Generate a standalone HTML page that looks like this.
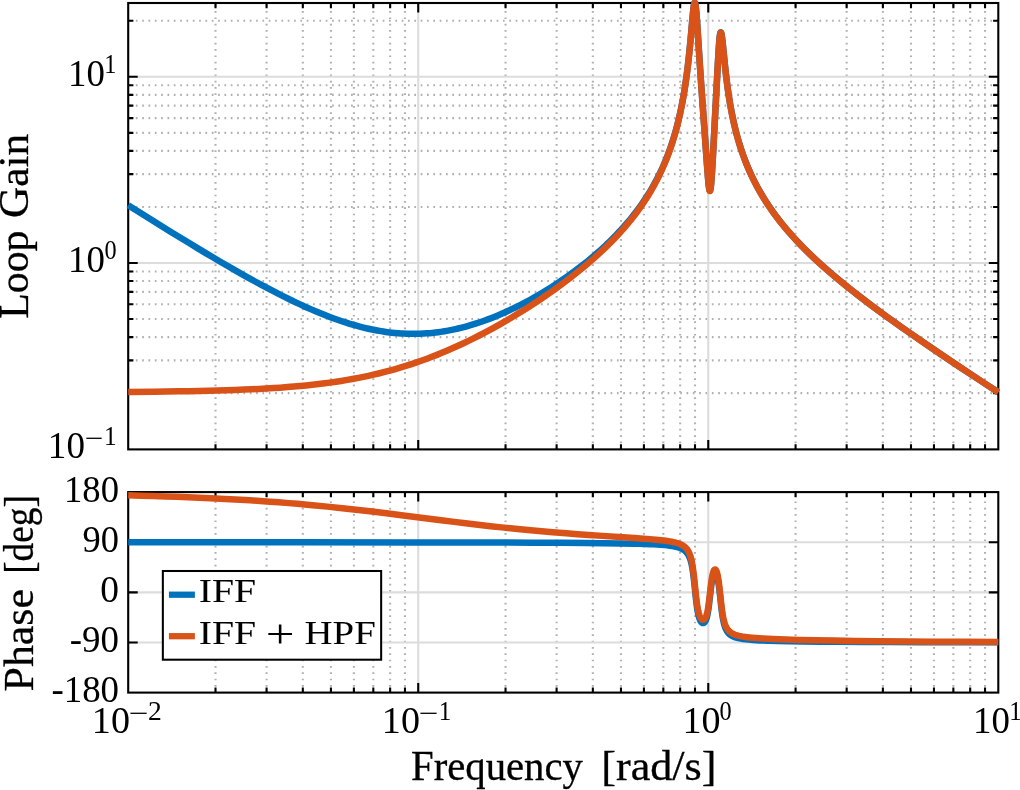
<!DOCTYPE html>
<html><head><meta charset="utf-8"><title>Bode</title>
<style>html,body{margin:0;padding:0;background:#fff;overflow:hidden}svg{display:block}</style></head>
<body>
<svg width="1020" height="790" viewBox="0 0 1020 790">
<rect width="1020" height="790" fill="#fff"/>
<line x1="215.51" y1="449.40" x2="215.51" y2="3.00" stroke="#b0b0b0" stroke-width="2.10" stroke-dasharray="1.7 4.63" stroke-dashoffset="0.15"/>
<line x1="266.58" y1="449.40" x2="266.58" y2="3.00" stroke="#b0b0b0" stroke-width="2.10" stroke-dasharray="1.7 4.63" stroke-dashoffset="0.15"/>
<line x1="302.82" y1="449.40" x2="302.82" y2="3.00" stroke="#b0b0b0" stroke-width="2.10" stroke-dasharray="1.7 4.63" stroke-dashoffset="0.15"/>
<line x1="330.92" y1="449.40" x2="330.92" y2="3.00" stroke="#b0b0b0" stroke-width="2.10" stroke-dasharray="1.7 4.63" stroke-dashoffset="0.15"/>
<line x1="353.89" y1="449.40" x2="353.89" y2="3.00" stroke="#b0b0b0" stroke-width="2.10" stroke-dasharray="1.7 4.63" stroke-dashoffset="0.15"/>
<line x1="373.31" y1="449.40" x2="373.31" y2="3.00" stroke="#b0b0b0" stroke-width="2.10" stroke-dasharray="1.7 4.63" stroke-dashoffset="0.15"/>
<line x1="390.13" y1="449.40" x2="390.13" y2="3.00" stroke="#b0b0b0" stroke-width="2.10" stroke-dasharray="1.7 4.63" stroke-dashoffset="0.15"/>
<line x1="404.96" y1="449.40" x2="404.96" y2="3.00" stroke="#b0b0b0" stroke-width="2.10" stroke-dasharray="1.7 4.63" stroke-dashoffset="0.15"/>
<line x1="505.54" y1="449.40" x2="505.54" y2="3.00" stroke="#b0b0b0" stroke-width="2.10" stroke-dasharray="1.7 4.63" stroke-dashoffset="0.15"/>
<line x1="556.61" y1="449.40" x2="556.61" y2="3.00" stroke="#b0b0b0" stroke-width="2.10" stroke-dasharray="1.7 4.63" stroke-dashoffset="0.15"/>
<line x1="592.85" y1="449.40" x2="592.85" y2="3.00" stroke="#b0b0b0" stroke-width="2.10" stroke-dasharray="1.7 4.63" stroke-dashoffset="0.15"/>
<line x1="620.96" y1="449.40" x2="620.96" y2="3.00" stroke="#b0b0b0" stroke-width="2.10" stroke-dasharray="1.7 4.63" stroke-dashoffset="0.15"/>
<line x1="643.92" y1="449.40" x2="643.92" y2="3.00" stroke="#b0b0b0" stroke-width="2.10" stroke-dasharray="1.7 4.63" stroke-dashoffset="0.15"/>
<line x1="663.34" y1="449.40" x2="663.34" y2="3.00" stroke="#b0b0b0" stroke-width="2.10" stroke-dasharray="1.7 4.63" stroke-dashoffset="0.15"/>
<line x1="680.16" y1="449.40" x2="680.16" y2="3.00" stroke="#b0b0b0" stroke-width="2.10" stroke-dasharray="1.7 4.63" stroke-dashoffset="0.15"/>
<line x1="695.00" y1="449.40" x2="695.00" y2="3.00" stroke="#b0b0b0" stroke-width="2.10" stroke-dasharray="1.7 4.63" stroke-dashoffset="0.15"/>
<line x1="795.58" y1="449.40" x2="795.58" y2="3.00" stroke="#b0b0b0" stroke-width="2.10" stroke-dasharray="1.7 4.63" stroke-dashoffset="0.15"/>
<line x1="846.65" y1="449.40" x2="846.65" y2="3.00" stroke="#b0b0b0" stroke-width="2.10" stroke-dasharray="1.7 4.63" stroke-dashoffset="0.15"/>
<line x1="882.88" y1="449.40" x2="882.88" y2="3.00" stroke="#b0b0b0" stroke-width="2.10" stroke-dasharray="1.7 4.63" stroke-dashoffset="0.15"/>
<line x1="910.99" y1="449.40" x2="910.99" y2="3.00" stroke="#b0b0b0" stroke-width="2.10" stroke-dasharray="1.7 4.63" stroke-dashoffset="0.15"/>
<line x1="933.96" y1="449.40" x2="933.96" y2="3.00" stroke="#b0b0b0" stroke-width="2.10" stroke-dasharray="1.7 4.63" stroke-dashoffset="0.15"/>
<line x1="953.37" y1="449.40" x2="953.37" y2="3.00" stroke="#b0b0b0" stroke-width="2.10" stroke-dasharray="1.7 4.63" stroke-dashoffset="0.15"/>
<line x1="970.19" y1="449.40" x2="970.19" y2="3.00" stroke="#b0b0b0" stroke-width="2.10" stroke-dasharray="1.7 4.63" stroke-dashoffset="0.15"/>
<line x1="985.03" y1="449.40" x2="985.03" y2="3.00" stroke="#b0b0b0" stroke-width="2.10" stroke-dasharray="1.7 4.63" stroke-dashoffset="0.15"/>
<line x1="128.20" y1="393.15" x2="998.30" y2="393.15" stroke="#b0b0b0" stroke-width="2.10" stroke-dasharray="1.7 4.63" stroke-dashoffset="-1.30"/>
<line x1="128.20" y1="360.36" x2="998.30" y2="360.36" stroke="#b0b0b0" stroke-width="2.10" stroke-dasharray="1.7 4.63" stroke-dashoffset="-1.30"/>
<line x1="128.20" y1="337.10" x2="998.30" y2="337.10" stroke="#b0b0b0" stroke-width="2.10" stroke-dasharray="1.7 4.63" stroke-dashoffset="-1.30"/>
<line x1="128.20" y1="319.05" x2="998.30" y2="319.05" stroke="#b0b0b0" stroke-width="2.10" stroke-dasharray="1.7 4.63" stroke-dashoffset="-1.30"/>
<line x1="128.20" y1="304.31" x2="998.30" y2="304.31" stroke="#b0b0b0" stroke-width="2.10" stroke-dasharray="1.7 4.63" stroke-dashoffset="-1.30"/>
<line x1="128.20" y1="291.84" x2="998.30" y2="291.84" stroke="#b0b0b0" stroke-width="2.10" stroke-dasharray="1.7 4.63" stroke-dashoffset="-1.30"/>
<line x1="128.20" y1="281.04" x2="998.30" y2="281.04" stroke="#b0b0b0" stroke-width="2.10" stroke-dasharray="1.7 4.63" stroke-dashoffset="-1.30"/>
<line x1="128.20" y1="271.52" x2="998.30" y2="271.52" stroke="#b0b0b0" stroke-width="2.10" stroke-dasharray="1.7 4.63" stroke-dashoffset="-1.30"/>
<line x1="128.20" y1="206.95" x2="998.30" y2="206.95" stroke="#b0b0b0" stroke-width="2.10" stroke-dasharray="1.7 4.63" stroke-dashoffset="-1.30"/>
<line x1="128.20" y1="174.16" x2="998.30" y2="174.16" stroke="#b0b0b0" stroke-width="2.10" stroke-dasharray="1.7 4.63" stroke-dashoffset="-1.30"/>
<line x1="128.20" y1="150.90" x2="998.30" y2="150.90" stroke="#b0b0b0" stroke-width="2.10" stroke-dasharray="1.7 4.63" stroke-dashoffset="-1.30"/>
<line x1="128.20" y1="132.85" x2="998.30" y2="132.85" stroke="#b0b0b0" stroke-width="2.10" stroke-dasharray="1.7 4.63" stroke-dashoffset="-1.30"/>
<line x1="128.20" y1="118.11" x2="998.30" y2="118.11" stroke="#b0b0b0" stroke-width="2.10" stroke-dasharray="1.7 4.63" stroke-dashoffset="-1.30"/>
<line x1="128.20" y1="105.64" x2="998.30" y2="105.64" stroke="#b0b0b0" stroke-width="2.10" stroke-dasharray="1.7 4.63" stroke-dashoffset="-1.30"/>
<line x1="128.20" y1="94.84" x2="998.30" y2="94.84" stroke="#b0b0b0" stroke-width="2.10" stroke-dasharray="1.7 4.63" stroke-dashoffset="-1.30"/>
<line x1="128.20" y1="85.32" x2="998.30" y2="85.32" stroke="#b0b0b0" stroke-width="2.10" stroke-dasharray="1.7 4.63" stroke-dashoffset="-1.30"/>
<line x1="128.20" y1="20.75" x2="998.30" y2="20.75" stroke="#b0b0b0" stroke-width="2.10" stroke-dasharray="1.7 4.63" stroke-dashoffset="-1.30"/>
<line x1="418.23" y1="449.40" x2="418.23" y2="3.00" stroke="#dcdcdc" stroke-width="2.10"/>
<line x1="708.27" y1="449.40" x2="708.27" y2="3.00" stroke="#dcdcdc" stroke-width="2.10"/>
<line x1="128.20" y1="76.80" x2="998.30" y2="76.80" stroke="#dcdcdc" stroke-width="2.10"/>
<line x1="128.20" y1="263.00" x2="998.30" y2="263.00" stroke="#dcdcdc" stroke-width="2.10"/>
<path d="M215.51,449.40V444.20 M215.51,3.00V8.20 M266.58,449.40V444.20 M266.58,3.00V8.20 M302.82,449.40V444.20 M302.82,3.00V8.20 M330.92,449.40V444.20 M330.92,3.00V8.20 M353.89,449.40V444.20 M353.89,3.00V8.20 M373.31,449.40V444.20 M373.31,3.00V8.20 M390.13,449.40V444.20 M390.13,3.00V8.20 M404.96,449.40V444.20 M404.96,3.00V8.20 M418.23,449.40V439.90 M418.23,3.00V12.50 M505.54,449.40V444.20 M505.54,3.00V8.20 M556.61,449.40V444.20 M556.61,3.00V8.20 M592.85,449.40V444.20 M592.85,3.00V8.20 M620.96,449.40V444.20 M620.96,3.00V8.20 M643.92,449.40V444.20 M643.92,3.00V8.20 M663.34,449.40V444.20 M663.34,3.00V8.20 M680.16,449.40V444.20 M680.16,3.00V8.20 M695.00,449.40V444.20 M695.00,3.00V8.20 M708.27,449.40V439.90 M708.27,3.00V12.50 M795.58,449.40V444.20 M795.58,3.00V8.20 M846.65,449.40V444.20 M846.65,3.00V8.20 M882.88,449.40V444.20 M882.88,3.00V8.20 M910.99,449.40V444.20 M910.99,3.00V8.20 M933.96,449.40V444.20 M933.96,3.00V8.20 M953.37,449.40V444.20 M953.37,3.00V8.20 M970.19,449.40V444.20 M970.19,3.00V8.20 M985.03,449.40V444.20 M985.03,3.00V8.20 M128.20,76.80H137.70 M998.30,76.80H988.80 M128.20,263.00H137.70 M998.30,263.00H988.80 M128.20,393.15H133.40 M998.30,393.15H993.10 M128.20,360.36H133.40 M998.30,360.36H993.10 M128.20,337.10H133.40 M998.30,337.10H993.10 M128.20,319.05H133.40 M998.30,319.05H993.10 M128.20,304.31H133.40 M998.30,304.31H993.10 M128.20,291.84H133.40 M998.30,291.84H993.10 M128.20,281.04H133.40 M998.30,281.04H993.10 M128.20,271.52H133.40 M998.30,271.52H993.10 M128.20,206.95H133.40 M998.30,206.95H993.10 M128.20,174.16H133.40 M998.30,174.16H993.10 M128.20,150.90H133.40 M998.30,150.90H993.10 M128.20,132.85H133.40 M998.30,132.85H993.10 M128.20,118.11H133.40 M998.30,118.11H993.10 M128.20,105.64H133.40 M998.30,105.64H993.10 M128.20,94.84H133.40 M998.30,94.84H993.10 M128.20,85.32H133.40 M998.30,85.32H993.10 M128.20,20.75H133.40 M998.30,20.75H993.10" stroke="#000" stroke-width="2.10" fill="none"/>
<rect x="128.20" y="3.00" width="870.10" height="446.40" fill="none" stroke="#000" stroke-width="2.10"/>
<path d="M128.20,205.29 L150.61,219.32 L170.52,231.66 L180.48,237.77 L189.19,243.08 L197.91,248.36 L205.38,252.84 L212.84,257.28 L220.31,261.68 L227.78,266.04 L235.25,270.34 L242.72,274.58 L248.94,278.07 L255.17,281.50 L261.39,284.88 L267.62,288.21 L273.84,291.47 L280.06,294.66 L285.04,297.16 L291.27,300.22 L296.25,302.60 L301.22,304.92 L306.20,307.18 L311.18,309.38 L316.16,311.51 L321.14,313.56 L326.12,315.54 L331.10,317.44 L336.08,319.25 L341.06,320.98 L344.79,322.21 L349.77,323.78 L354.75,325.24 L359.73,326.60 L363.46,327.55 L368.44,328.72 L372.18,329.52 L377.16,330.50 L380.89,331.15 L383.38,331.55 L385.87,331.91 L389.60,332.41 L392.09,332.69 L394.58,332.95 L398.32,333.28 L400.81,333.46 L403.30,333.60 L407.03,333.76 L409.52,333.83 L412.01,333.86 L415.74,333.85 L419.48,333.76 L423.21,333.60 L426.95,333.36 L429.44,333.16 L431.93,332.93 L435.66,332.52 L438.15,332.21 L440.64,331.86 L444.37,331.28 L446.86,330.86 L449.35,330.40 L453.09,329.65 L455.58,329.11 L458.07,328.54 L461.80,327.63 L466.78,326.31 L470.51,325.24 L475.49,323.71 L479.23,322.49 L484.21,320.75 L489.19,318.91 L491.68,317.94 L495.41,316.45 L497.90,315.42 L501.63,313.82 L504.12,312.72 L507.86,311.03 L512.84,308.68 L515.33,307.47 L519.06,305.60 L521.55,304.33 L525.28,302.37 L527.77,301.04 L531.51,298.98 L535.24,296.88 L537.73,295.44 L541.47,293.25 L543.96,291.75 L547.69,289.46 L550.18,287.90 L555.16,284.70 L558.89,282.24 L561.38,280.56 L566.36,277.12 L570.10,274.47 L572.59,272.67 L577.56,268.96 L582.54,265.13 L587.52,261.17 L592.50,257.05 L594.99,254.94 L597.48,252.78 L599.97,250.58 L602.46,248.33 L604.95,246.04 L607.44,243.69 L609.93,241.29 L612.42,238.84 L616.15,235.05 L619.89,231.11 L623.62,227.00 L627.36,222.72 L629.85,219.76 L631.09,218.25 L633.58,215.14 L634.82,213.54 L637.31,210.27 L638.56,208.59 L641.05,205.13 L642.29,203.35 L644.78,199.68 L647.27,195.85 L649.76,191.84 L652.25,187.63 L654.74,183.20 L655.99,180.89 L657.23,178.52 L658.48,176.07 L659.72,173.55 L660.97,170.95 L662.21,168.25 L663.45,165.47 L664.70,162.58 L665.94,159.59 L667.19,156.47 L668.43,153.22 L669.68,149.83 L670.92,146.28 L672.17,142.55 L673.41,138.63 L674.66,134.50 L675.90,130.12 L677.15,125.47 L678.39,120.51 L679.64,115.19 L680.78,109.93 L681.85,104.69 L682.85,99.40 L683.85,93.72 L684.79,87.97 L685.72,81.75 L686.60,75.47 L687.48,68.67 L688.29,61.82 L689.10,54.40 L689.66,48.92 L690.29,42.49 L690.98,35.03 L692.60,16.80 L693.04,12.26 L693.42,8.79 L693.67,6.79 L693.85,5.49 L694.04,4.39 L694.23,3.51 L694.35,3.06 L694.48,2.73 L694.54,2.70 L694.98,2.70 L695.04,2.77 L695.17,3.14 L695.35,3.93 L695.60,5.42 L695.82,7.07 L696.04,9.12 L696.29,11.78 L696.79,18.01 L697.61,29.78 L699.92,65.51 L701.23,84.77 L702.42,101.50 L706.61,159.43 L707.61,172.85 L708.27,180.68 L708.55,183.59 L708.80,185.84 L709.05,187.74 L709.30,189.21 L709.51,190.08 L709.61,190.36 L709.74,190.59 L709.86,190.67 L709.92,190.67 L709.99,190.62 L710.11,190.42 L710.24,190.08 L710.36,189.59 L710.49,188.96 L710.80,186.78 L711.05,184.46 L711.36,180.92 L711.67,176.78 L712.05,171.19 L712.74,159.69 L713.61,143.80 L717.68,66.64 L718.37,54.62 L718.93,45.95 L719.18,42.60 L719.43,39.65 L719.68,37.14 L719.93,35.12 L720.18,33.62 L720.37,32.84 L720.49,32.50 L720.62,32.28 L720.74,32.20 L720.87,32.24 L720.99,32.40 L721.12,32.68 L721.24,33.07 L721.43,33.85 L721.74,35.59 L722.12,38.27 L722.49,41.42 L722.87,44.89 L725.06,66.25 L725.68,71.92 L726.31,77.28 L727.12,83.79 L727.93,89.80 L728.81,95.78 L729.75,101.67 L730.75,107.46 L731.81,113.12 L732.93,118.64 L734.06,123.74 L735.19,128.49 L736.37,133.17 L736.90,135.13 L738.14,139.58 L739.39,143.77 L740.63,147.73 L741.88,151.47 L743.12,155.03 L744.37,158.42 L745.61,161.66 L746.85,164.77 L748.10,167.76 L749.34,170.63 L750.59,173.40 L751.83,176.07 L753.08,178.66 L754.32,181.17 L755.57,183.60 L756.81,185.96 L758.06,188.26 L760.55,192.67 L763.04,196.87 L765.53,200.87 L768.02,204.71 L769.26,206.57 L771.75,210.18 L774.24,213.66 L775.48,215.35 L777.97,218.66 L779.22,220.27 L781.71,223.42 L785.44,227.98 L789.18,232.36 L792.91,236.57 L796.65,240.64 L800.38,244.58 L804.11,248.40 L806.60,250.89 L809.09,253.33 L814.07,258.09 L819.05,262.70 L824.03,267.19 L829.01,271.55 L833.99,275.81 L840.21,281.00 L846.44,286.07 L852.66,291.02 L858.88,295.87 L865.11,300.63 L871.33,305.32 L878.80,310.84 L886.27,316.29 L893.74,321.65 L902.45,327.82 L911.17,333.92 L919.88,339.94 L929.84,346.76 L939.80,353.52 L949.75,360.22 L960.96,367.70 L972.16,375.13 L984.61,383.35 L998.30,392.34" fill="none" stroke="#0072BD" stroke-width="6.50" stroke-linejoin="round"/>
<path d="M128.20,391.89 L154.34,391.67 L177.99,391.36 L189.19,391.18 L199.15,390.98 L209.11,390.76 L217.82,390.53 L226.54,390.26 L235.25,389.97 L243.96,389.62 L251.43,389.30 L258.90,388.93 L266.37,388.52 L273.84,388.06 L280.06,387.64 L287.53,387.08 L293.76,386.57 L299.98,386.02 L306.20,385.41 L312.43,384.75 L318.65,384.04 L324.87,383.26 L329.85,382.60 L336.08,381.70 L341.06,380.94 L347.28,379.91 L352.26,379.03 L358.48,377.86 L363.46,376.86 L368.44,375.81 L373.42,374.70 L379.65,373.22 L384.62,371.97 L389.60,370.66 L394.58,369.28 L400.81,367.46 L405.79,365.94 L410.76,364.34 L415.74,362.68 L421.97,360.50 L426.95,358.69 L431.93,356.80 L436.91,354.85 L441.88,352.82 L446.86,350.73 L451.84,348.57 L458.07,345.77 L463.05,343.46 L468.02,341.09 L473.00,338.64 L479.23,335.50 L484.21,332.91 L490.43,329.59 L495.41,326.86 L501.63,323.36 L507.86,319.76 L512.84,316.81 L519.06,313.03 L524.04,309.94 L530.26,305.98 L535.24,302.74 L540.22,299.43 L545.20,296.05 L550.18,292.59 L555.16,289.06 L560.14,285.44 L565.12,281.74 L570.10,277.94 L573.83,275.03 L578.81,271.06 L582.54,268.01 L587.52,263.83 L591.26,260.61 L594.99,257.31 L598.73,253.92 L602.46,250.45 L606.19,246.87 L609.93,243.18 L613.66,239.37 L617.40,235.43 L621.13,231.34 L624.87,227.09 L627.36,224.16 L631.09,219.60 L633.58,216.44 L636.07,213.17 L638.56,209.80 L641.05,206.29 L643.54,202.65 L646.03,198.86 L648.52,194.90 L651.01,190.75 L653.50,186.40 L655.99,181.81 L657.23,179.41 L658.48,176.95 L659.72,174.41 L660.97,171.79 L662.21,169.09 L663.45,166.29 L664.70,163.38 L665.94,160.37 L667.19,157.24 L668.43,153.97 L669.68,150.57 L670.92,147.00 L672.17,143.26 L673.41,139.33 L674.66,135.18 L675.90,130.79 L677.15,126.13 L678.39,121.16 L679.64,115.83 L680.60,111.43 L681.47,107.19 L682.35,102.70 L683.16,98.27 L683.97,93.56 L684.72,88.95 L685.47,84.04 L686.22,78.80 L686.91,73.67 L687.60,68.21 L688.23,62.92 L688.91,56.71 L689.54,50.70 L690.66,38.99 L692.60,17.31 L693.29,10.41 L693.67,7.30 L693.85,5.99 L694.04,4.89 L694.23,4.01 L694.42,3.38 L694.57,3.06 L694.67,2.96 L694.73,2.93 L694.79,2.93 L694.85,2.97 L694.98,3.13 L695.17,3.63 L695.35,4.42 L695.60,5.91 L695.82,7.56 L696.04,9.61 L696.54,15.25 L696.92,20.20 L697.42,27.43 L699.73,63.14 L701.23,85.22 L702.55,103.68 L707.23,168.36 L708.05,178.61 L708.36,182.09 L708.67,185.16 L708.99,187.70 L709.24,189.28 L709.49,190.39 L709.61,190.75 L709.74,190.98 L709.86,191.07 L709.92,191.06 L709.99,191.01 L710.11,190.81 L710.24,190.47 L710.36,189.98 L710.49,189.35 L710.80,187.17 L711.05,184.85 L711.36,181.31 L711.67,177.17 L712.05,171.57 L712.74,160.07 L713.61,144.17 L717.68,66.99 L718.37,54.96 L718.93,46.29 L719.18,42.94 L719.43,39.99 L719.68,37.47 L719.93,35.45 L720.18,33.95 L720.37,33.18 L720.49,32.83 L720.62,32.61 L720.74,32.53 L720.87,32.57 L720.99,32.73 L721.12,33.01 L721.24,33.40 L721.43,34.17 L721.74,35.91 L722.12,38.59 L722.49,41.74 L722.87,45.21 L725.06,66.56 L725.68,72.23 L726.31,77.59 L727.12,84.09 L727.93,90.10 L728.81,96.07 L729.75,101.96 L730.75,107.74 L731.81,113.39 L732.93,118.91 L734.06,124.01 L735.19,128.75 L736.37,133.42 L736.90,135.38 L738.14,139.83 L739.39,144.02 L740.63,147.97 L741.88,151.71 L743.12,155.26 L744.37,158.65 L745.61,161.89 L746.85,164.99 L748.10,167.97 L749.34,170.84 L750.59,173.61 L751.83,176.28 L753.08,178.86 L754.32,181.36 L755.57,183.79 L756.81,186.15 L758.06,188.44 L760.55,192.84 L763.04,197.03 L765.53,201.03 L768.02,204.86 L769.26,206.72 L771.75,210.33 L774.24,213.80 L775.48,215.49 L777.97,218.79 L779.22,220.40 L781.71,223.55 L785.44,228.10 L789.18,232.47 L792.91,236.68 L796.65,240.74 L800.38,244.67 L804.11,248.49 L806.60,250.97 L809.09,253.41 L814.07,258.17 L819.05,262.77 L824.03,267.25 L829.01,271.61 L833.99,275.87 L840.21,281.05 L846.44,286.11 L852.66,291.06 L858.88,295.91 L865.11,300.67 L871.33,305.35 L878.80,310.87 L886.27,316.31 L893.74,321.67 L902.45,327.84 L911.17,333.93 L919.88,339.96 L929.84,346.77 L939.80,353.53 L949.75,360.22 L960.96,367.71 L972.16,375.14 L984.61,383.35 L998.30,392.34" fill="none" stroke="#D95319" stroke-width="6.50" stroke-linejoin="round"/>
<line x1="215.51" y1="692.60" x2="215.51" y2="492.10" stroke="#b0b0b0" stroke-width="2.10" stroke-dasharray="1.7 4.63" stroke-dashoffset="0.40"/>
<line x1="266.58" y1="692.60" x2="266.58" y2="492.10" stroke="#b0b0b0" stroke-width="2.10" stroke-dasharray="1.7 4.63" stroke-dashoffset="0.40"/>
<line x1="302.82" y1="692.60" x2="302.82" y2="492.10" stroke="#b0b0b0" stroke-width="2.10" stroke-dasharray="1.7 4.63" stroke-dashoffset="0.40"/>
<line x1="330.92" y1="692.60" x2="330.92" y2="492.10" stroke="#b0b0b0" stroke-width="2.10" stroke-dasharray="1.7 4.63" stroke-dashoffset="0.40"/>
<line x1="353.89" y1="692.60" x2="353.89" y2="492.10" stroke="#b0b0b0" stroke-width="2.10" stroke-dasharray="1.7 4.63" stroke-dashoffset="0.40"/>
<line x1="373.31" y1="692.60" x2="373.31" y2="492.10" stroke="#b0b0b0" stroke-width="2.10" stroke-dasharray="1.7 4.63" stroke-dashoffset="0.40"/>
<line x1="390.13" y1="692.60" x2="390.13" y2="492.10" stroke="#b0b0b0" stroke-width="2.10" stroke-dasharray="1.7 4.63" stroke-dashoffset="0.40"/>
<line x1="404.96" y1="692.60" x2="404.96" y2="492.10" stroke="#b0b0b0" stroke-width="2.10" stroke-dasharray="1.7 4.63" stroke-dashoffset="0.40"/>
<line x1="505.54" y1="692.60" x2="505.54" y2="492.10" stroke="#b0b0b0" stroke-width="2.10" stroke-dasharray="1.7 4.63" stroke-dashoffset="0.40"/>
<line x1="556.61" y1="692.60" x2="556.61" y2="492.10" stroke="#b0b0b0" stroke-width="2.10" stroke-dasharray="1.7 4.63" stroke-dashoffset="0.40"/>
<line x1="592.85" y1="692.60" x2="592.85" y2="492.10" stroke="#b0b0b0" stroke-width="2.10" stroke-dasharray="1.7 4.63" stroke-dashoffset="0.40"/>
<line x1="620.96" y1="692.60" x2="620.96" y2="492.10" stroke="#b0b0b0" stroke-width="2.10" stroke-dasharray="1.7 4.63" stroke-dashoffset="0.40"/>
<line x1="643.92" y1="692.60" x2="643.92" y2="492.10" stroke="#b0b0b0" stroke-width="2.10" stroke-dasharray="1.7 4.63" stroke-dashoffset="0.40"/>
<line x1="663.34" y1="692.60" x2="663.34" y2="492.10" stroke="#b0b0b0" stroke-width="2.10" stroke-dasharray="1.7 4.63" stroke-dashoffset="0.40"/>
<line x1="680.16" y1="692.60" x2="680.16" y2="492.10" stroke="#b0b0b0" stroke-width="2.10" stroke-dasharray="1.7 4.63" stroke-dashoffset="0.40"/>
<line x1="695.00" y1="692.60" x2="695.00" y2="492.10" stroke="#b0b0b0" stroke-width="2.10" stroke-dasharray="1.7 4.63" stroke-dashoffset="0.40"/>
<line x1="795.58" y1="692.60" x2="795.58" y2="492.10" stroke="#b0b0b0" stroke-width="2.10" stroke-dasharray="1.7 4.63" stroke-dashoffset="0.40"/>
<line x1="846.65" y1="692.60" x2="846.65" y2="492.10" stroke="#b0b0b0" stroke-width="2.10" stroke-dasharray="1.7 4.63" stroke-dashoffset="0.40"/>
<line x1="882.88" y1="692.60" x2="882.88" y2="492.10" stroke="#b0b0b0" stroke-width="2.10" stroke-dasharray="1.7 4.63" stroke-dashoffset="0.40"/>
<line x1="910.99" y1="692.60" x2="910.99" y2="492.10" stroke="#b0b0b0" stroke-width="2.10" stroke-dasharray="1.7 4.63" stroke-dashoffset="0.40"/>
<line x1="933.96" y1="692.60" x2="933.96" y2="492.10" stroke="#b0b0b0" stroke-width="2.10" stroke-dasharray="1.7 4.63" stroke-dashoffset="0.40"/>
<line x1="953.37" y1="692.60" x2="953.37" y2="492.10" stroke="#b0b0b0" stroke-width="2.10" stroke-dasharray="1.7 4.63" stroke-dashoffset="0.40"/>
<line x1="970.19" y1="692.60" x2="970.19" y2="492.10" stroke="#b0b0b0" stroke-width="2.10" stroke-dasharray="1.7 4.63" stroke-dashoffset="0.40"/>
<line x1="985.03" y1="692.60" x2="985.03" y2="492.10" stroke="#b0b0b0" stroke-width="2.10" stroke-dasharray="1.7 4.63" stroke-dashoffset="0.40"/>
<line x1="418.23" y1="692.60" x2="418.23" y2="492.10" stroke="#dcdcdc" stroke-width="2.10"/>
<line x1="708.27" y1="692.60" x2="708.27" y2="492.10" stroke="#dcdcdc" stroke-width="2.10"/>
<line x1="128.20" y1="542.23" x2="998.30" y2="542.23" stroke="#dcdcdc" stroke-width="2.10"/>
<line x1="128.20" y1="592.35" x2="998.30" y2="592.35" stroke="#dcdcdc" stroke-width="2.10"/>
<line x1="128.20" y1="642.48" x2="998.30" y2="642.48" stroke="#dcdcdc" stroke-width="2.10"/>
<path d="M215.51,692.60V687.40 M215.51,492.10V497.30 M266.58,692.60V687.40 M266.58,492.10V497.30 M302.82,692.60V687.40 M302.82,492.10V497.30 M330.92,692.60V687.40 M330.92,492.10V497.30 M353.89,692.60V687.40 M353.89,492.10V497.30 M373.31,692.60V687.40 M373.31,492.10V497.30 M390.13,692.60V687.40 M390.13,492.10V497.30 M404.96,692.60V687.40 M404.96,492.10V497.30 M418.23,692.60V683.10 M418.23,492.10V501.60 M505.54,692.60V687.40 M505.54,492.10V497.30 M556.61,692.60V687.40 M556.61,492.10V497.30 M592.85,692.60V687.40 M592.85,492.10V497.30 M620.96,692.60V687.40 M620.96,492.10V497.30 M643.92,692.60V687.40 M643.92,492.10V497.30 M663.34,692.60V687.40 M663.34,492.10V497.30 M680.16,692.60V687.40 M680.16,492.10V497.30 M695.00,692.60V687.40 M695.00,492.10V497.30 M708.27,692.60V683.10 M708.27,492.10V501.60 M795.58,692.60V687.40 M795.58,492.10V497.30 M846.65,692.60V687.40 M846.65,492.10V497.30 M882.88,692.60V687.40 M882.88,492.10V497.30 M910.99,692.60V687.40 M910.99,492.10V497.30 M933.96,692.60V687.40 M933.96,492.10V497.30 M953.37,692.60V687.40 M953.37,492.10V497.30 M970.19,692.60V687.40 M970.19,492.10V497.30 M985.03,692.60V687.40 M985.03,492.10V497.30 M128.20,542.23H137.70 M998.30,542.23H988.80 M128.20,592.35H137.70 M998.30,592.35H988.80 M128.20,642.48H137.70 M998.30,642.48H988.80" stroke="#000" stroke-width="2.10" fill="none"/>
<rect x="128.20" y="492.10" width="870.10" height="200.50" fill="none" stroke="#000" stroke-width="2.10"/>
<path d="M128.20,542.24 L298.73,542.29 L413.25,542.38 L459.31,542.46 L499.14,542.55 L532.75,542.67 L561.38,542.81 L585.03,542.97 L603.71,543.15 L619.89,543.38 L633.58,543.65 L639.80,543.82 L644.78,543.98 L649.76,544.17 L653.50,544.34 L657.23,544.55 L660.97,544.80 L664.70,545.11 L667.19,545.37 L669.68,545.67 L672.17,546.05 L674.66,546.51 L675.90,546.78 L677.15,547.10 L678.39,547.46 L679.64,547.88 L680.91,548.39 L682.10,548.95 L683.29,549.62 L684.35,550.34 L685.35,551.17 L685.85,551.64 L686.29,552.09 L687.10,553.06 L687.85,554.13 L688.54,555.29 L689.23,556.68 L689.73,557.86 L690.23,559.23 L690.73,560.83 L691.16,562.44 L691.60,564.29 L691.98,566.10 L692.35,568.14 L692.73,570.44 L693.33,574.71 L693.92,579.58 L694.42,584.21 L695.67,596.38 L696.35,602.47 L696.73,605.40 L697.11,608.03 L697.48,610.37 L697.86,612.42 L698.31,614.56 L698.79,616.49 L699.29,618.13 L699.79,619.48 L700.04,620.06 L700.36,620.70 L700.61,621.14 L700.92,621.63 L701.23,622.04 L701.54,622.39 L701.86,622.66 L702.17,622.87 L702.48,623.02 L702.80,623.10 L703.11,623.12 L703.42,623.08 L703.73,622.97 L704.05,622.80 L704.36,622.55 L704.67,622.23 L704.98,621.82 L705.23,621.43 L705.55,620.86 L705.80,620.33 L706.30,619.05 L706.80,617.43 L707.23,615.69 L707.67,613.60 L708.11,611.14 L708.49,608.71 L708.86,605.98 L709.30,602.46 L710.61,590.90 L711.17,586.27 L711.49,583.95 L711.80,581.85 L712.11,579.99 L712.42,578.35 L712.80,576.68 L713.24,575.12 L713.61,574.10 L713.80,573.68 L714.05,573.23 L714.24,572.96 L714.49,572.69 L714.68,572.56 L714.93,572.47 L715.18,572.48 L715.43,572.59 L715.68,572.80 L715.86,573.02 L716.18,573.52 L716.49,574.18 L716.80,575.01 L717.11,576.03 L717.43,577.25 L717.68,578.36 L717.99,579.96 L718.24,581.39 L718.74,584.69 L719.24,588.56 L719.74,592.90 L721.24,606.73 L721.74,610.85 L722.18,614.07 L722.74,617.65 L723.31,620.65 L723.62,622.09 L723.93,623.39 L724.24,624.56 L724.62,625.82 L725.06,627.11 L725.49,628.24 L725.99,629.36 L726.49,630.33 L727.06,631.28 L727.62,632.10 L728.24,632.89 L728.87,633.57 L729.62,634.27 L730.37,634.87 L731.18,635.43 L732.06,635.95 L733.00,636.42 L734.00,636.86 L735.12,637.28 L736.31,637.65 L738.14,638.14 L739.39,638.41 L740.63,638.65 L743.12,639.05 L745.61,639.37 L748.10,639.63 L750.59,639.86 L753.08,640.04 L759.30,640.41 L763.04,640.58 L768.02,640.77 L777.97,641.06 L789.18,641.29 L802.87,641.49 L820.30,641.68 L840.21,641.83 L862.62,641.96 L890.00,642.07 L921.12,642.17 L998.30,642.31" fill="none" stroke="#0072BD" stroke-width="6.50" stroke-linejoin="round"/>
<path d="M128.20,495.30 L140.65,495.63 L153.10,495.99 L165.54,496.39 L176.75,496.78 L187.95,497.21 L199.15,497.68 L210.36,498.18 L220.31,498.67 L230.27,499.19 L240.23,499.76 L250.19,500.36 L260.15,501.01 L270.10,501.70 L278.82,502.34 L288.78,503.12 L297.49,503.85 L312.43,505.18 L327.36,506.62 L342.30,508.17 L358.48,509.96 L372.18,511.57 L388.36,513.54 L403.30,515.42 L443.13,520.50 L454.33,521.90 L465.53,523.26 L477.98,524.74 L490.43,526.15 L501.63,527.37 L512.84,528.53 L525.28,529.75 L538.98,531.01 L552.67,532.19 L566.36,533.29 L577.56,534.14 L588.77,534.94 L602.46,535.88 L634.82,538.02 L643.54,538.65 L649.76,539.13 L655.99,539.68 L660.97,540.19 L663.45,540.48 L665.94,540.80 L669.68,541.37 L672.17,541.82 L673.41,542.08 L674.66,542.36 L675.90,542.68 L677.15,543.03 L678.39,543.44 L679.64,543.90 L680.28,544.16 L681.66,544.81 L682.91,545.51 L683.97,546.22 L684.97,547.02 L685.91,547.91 L686.73,548.83 L687.48,549.82 L688.23,551.01 L688.85,552.18 L689.48,553.56 L689.98,554.85 L690.41,556.14 L690.85,557.62 L691.29,559.30 L691.67,560.95 L692.08,563.04 L692.42,564.90 L692.79,567.26 L693.35,571.32 L693.92,576.02 L694.42,580.66 L695.67,592.87 L696.35,598.97 L696.73,601.92 L697.06,604.28 L697.42,606.53 L697.79,608.64 L698.23,610.78 L698.73,612.83 L699.23,614.53 L699.73,615.93 L699.98,616.52 L700.29,617.19 L700.54,617.66 L700.86,618.17 L701.17,618.60 L701.48,618.97 L701.79,619.27 L702.11,619.50 L702.42,619.66 L702.80,619.78 L703.11,619.81 L703.42,619.78 L703.73,619.68 L704.05,619.51 L704.36,619.27 L704.67,618.95 L704.98,618.56 L705.23,618.17 L705.55,617.61 L705.80,617.09 L706.30,615.82 L706.80,614.21 L707.23,612.48 L707.67,610.41 L708.11,607.95 L708.49,605.53 L708.86,602.81 L709.30,599.31 L710.61,587.77 L711.17,583.16 L711.49,580.85 L711.80,578.76 L712.11,576.90 L712.42,575.27 L712.80,573.61 L713.24,572.07 L713.61,571.05 L713.80,570.64 L714.05,570.19 L714.24,569.92 L714.49,569.66 L714.68,569.54 L714.93,569.45 L715.18,569.47 L715.43,569.58 L715.68,569.80 L715.86,570.02 L716.18,570.53 L716.49,571.20 L716.80,572.04 L717.11,573.07 L717.43,574.29 L717.68,575.41 L717.99,577.01 L718.24,578.45 L718.74,581.77 L719.24,585.65 L719.74,590.00 L721.24,603.86 L721.74,607.99 L722.18,611.22 L722.74,614.81 L723.31,617.82 L723.62,619.27 L723.93,620.58 L724.24,621.76 L724.62,623.02 L725.06,624.32 L725.49,625.46 L725.99,626.59 L726.49,627.58 L727.06,628.54 L727.62,629.37 L728.24,630.17 L728.87,630.86 L729.62,631.58 L730.37,632.20 L731.18,632.78 L732.06,633.31 L733.00,633.81 L734.06,634.29 L735.19,634.73 L736.37,635.13 L738.14,635.62 L739.39,635.92 L741.88,636.42 L744.37,636.83 L746.85,637.16 L749.34,637.45 L751.83,637.70 L755.57,638.02 L759.30,638.29 L763.04,638.52 L768.02,638.79 L773.00,639.02 L779.22,639.27 L785.44,639.49 L799.14,639.89 L815.32,640.27 L833.99,640.61 L855.15,640.93 L878.80,641.21 L904.94,641.45 L933.57,641.67 L964.69,641.85 L998.30,641.99" fill="none" stroke="#D95319" stroke-width="6.50" stroke-linejoin="round"/>
<rect x="162.85" y="571.00" width="218.30" height="88.70" fill="#fff" stroke="#000" stroke-width="2.05"/>
<line x1="168.9" y1="594.7" x2="194.9" y2="594.7" stroke="#0072BD" stroke-width="6.30"/>
<line x1="168.9" y1="636.2" x2="194.9" y2="636.2" stroke="#D95319" stroke-width="6.30"/>
<text id="y1a" x="67.97" y="86.10" font-size="37.10" font-family="'Liberation Serif', serif" textLength="36.85" lengthAdjust="spacingAndGlyphs">10</text>
<text id="y1b" x="104.23" y="72.60" font-size="26.30" font-family="'Liberation Serif', serif" textLength="12.09" lengthAdjust="spacingAndGlyphs">1</text>
<text id="y0a" x="67.97" y="272.20" font-size="37.10" font-family="'Liberation Serif', serif" textLength="36.85" lengthAdjust="spacingAndGlyphs">10</text>
<text id="y0b" x="104.48" y="258.60" font-size="26.30" font-family="'Liberation Serif', serif" textLength="12.16" lengthAdjust="spacingAndGlyphs">0</text>
<text id="ym1a" x="47.85" y="458.30" font-size="37.10" font-family="'Liberation Serif', serif" textLength="37.08" lengthAdjust="spacingAndGlyphs">10</text>
<text id="ym1m" x="85.14" y="447.30" font-size="26.30" font-family="'Liberation Serif', serif" textLength="18.54" lengthAdjust="spacingAndGlyphs">−</text>
<text id="ym1b" x="104.04" y="445.00" font-size="26.30" font-family="'Liberation Serif', serif" textLength="12.66" lengthAdjust="spacingAndGlyphs">1</text>
<text id="p180" x="63.99" y="501.50" font-size="37.10" font-family="'Liberation Serif', serif" textLength="54.97" lengthAdjust="spacingAndGlyphs">180</text>
<text id="p90" x="82.47" y="551.62" font-size="37.10" font-family="'Liberation Serif', serif" textLength="36.43" lengthAdjust="spacingAndGlyphs">90</text>
<text id="p0" x="100.19" y="601.75" font-size="37.10" font-family="'Liberation Serif', serif" textLength="18.72" lengthAdjust="spacingAndGlyphs">0</text>
<text id="p-90" x="69.81" y="651.88" font-size="37.10" font-family="'Liberation Serif', serif" textLength="49.22" lengthAdjust="spacingAndGlyphs">-90</text>
<text id="p-180" x="51.41" y="702.00" font-size="37.10" font-family="'Liberation Serif', serif" textLength="67.66" lengthAdjust="spacingAndGlyphs">-180</text>
<text id="x-2a" x="91.86" y="733.30" font-size="37.10" font-family="'Liberation Serif', serif" textLength="38.10" lengthAdjust="spacingAndGlyphs">10</text>
<text id="x-2m" x="128.95" y="722.00" font-size="26.30" font-family="'Liberation Serif', serif" textLength="19.63" lengthAdjust="spacingAndGlyphs">−</text>
<text id="x-2b" x="148.09" y="719.70" font-size="26.30" font-family="'Liberation Serif', serif" textLength="13.78" lengthAdjust="spacingAndGlyphs">2</text>
<text id="x-1a" x="381.89" y="733.30" font-size="37.10" font-family="'Liberation Serif', serif" textLength="38.10" lengthAdjust="spacingAndGlyphs">10</text>
<text id="x-1m" x="418.98" y="722.00" font-size="26.30" font-family="'Liberation Serif', serif" textLength="19.63" lengthAdjust="spacingAndGlyphs">−</text>
<text id="x-1b" x="438.79" y="719.70" font-size="26.30" font-family="'Liberation Serif', serif" textLength="12.52" lengthAdjust="spacingAndGlyphs">1</text>
<text id="x0a" x="682.53" y="733.30" font-size="37.10" font-family="'Liberation Serif', serif" textLength="38.10" lengthAdjust="spacingAndGlyphs">10</text>
<text id="x0b" x="719.54" y="719.70" font-size="26.30" font-family="'Liberation Serif', serif" textLength="12.16" lengthAdjust="spacingAndGlyphs">0</text>
<text id="x1a" x="972.97" y="733.30" font-size="37.10" font-family="'Liberation Serif', serif" textLength="36.85" lengthAdjust="spacingAndGlyphs">10</text>
<text id="x1b" x="1009.26" y="719.70" font-size="26.30" font-family="'Liberation Serif', serif" textLength="12.52" lengthAdjust="spacingAndGlyphs">1</text>
<text id="xla" x="411.06" y="780.10" font-size="41.20" font-family="'Liberation Serif', serif" stroke="#000" stroke-width="0.3" textLength="171.83" lengthAdjust="spacingAndGlyphs">Frequency</text>
<text id="xlb" x="601.28" y="780.10" font-size="41.20" font-family="'Liberation Serif', serif" stroke="#000" stroke-width="0.3" textLength="115.23" lengthAdjust="spacingAndGlyphs">[rad/s]</text>
<text id="yl1a" transform="translate(27.90,318.77) rotate(-90)" font-size="41.20" font-family="'Liberation Serif', serif" stroke="#000" stroke-width="0.3" textLength="88.20" lengthAdjust="spacingAndGlyphs">Loop</text>
<text id="yl1b" transform="translate(27.90,218.04) rotate(-90)" font-size="41.20" font-family="'Liberation Serif', serif" stroke="#000" stroke-width="0.3" textLength="84.13" lengthAdjust="spacingAndGlyphs">Gain</text>
<text id="yl2a" transform="translate(33.30,691.53) rotate(-90)" font-size="41.20" font-family="'Liberation Serif', serif" stroke="#000" stroke-width="0.3" textLength="102.47" lengthAdjust="spacingAndGlyphs">Phase</text>
<text id="yl2b" transform="translate(33.30,573.82) rotate(-90)" font-size="41.20" font-family="'Liberation Serif', serif" stroke="#000" stroke-width="0.3" textLength="78.67" lengthAdjust="spacingAndGlyphs">[deg]</text>
<text id="l1" x="198.76" y="602.40" font-size="34.40" font-family="'Liberation Serif', serif" textLength="57.35" lengthAdjust="spacingAndGlyphs">IFF</text>
<text id="l2a" x="198.76" y="644.10" font-size="34.40" font-family="'Liberation Serif', serif" textLength="57.35" lengthAdjust="spacingAndGlyphs">IFF</text>
<text id="l2b" x="265.85" y="647.10" font-size="40.00" font-family="'Liberation Serif', serif" textLength="28.78" lengthAdjust="spacingAndGlyphs">+</text>
<text id="l2c" x="304.57" y="644.10" font-size="34.40" font-family="'Liberation Serif', serif" textLength="71.25" lengthAdjust="spacingAndGlyphs">HPF</text>
</svg>
</body></html>
